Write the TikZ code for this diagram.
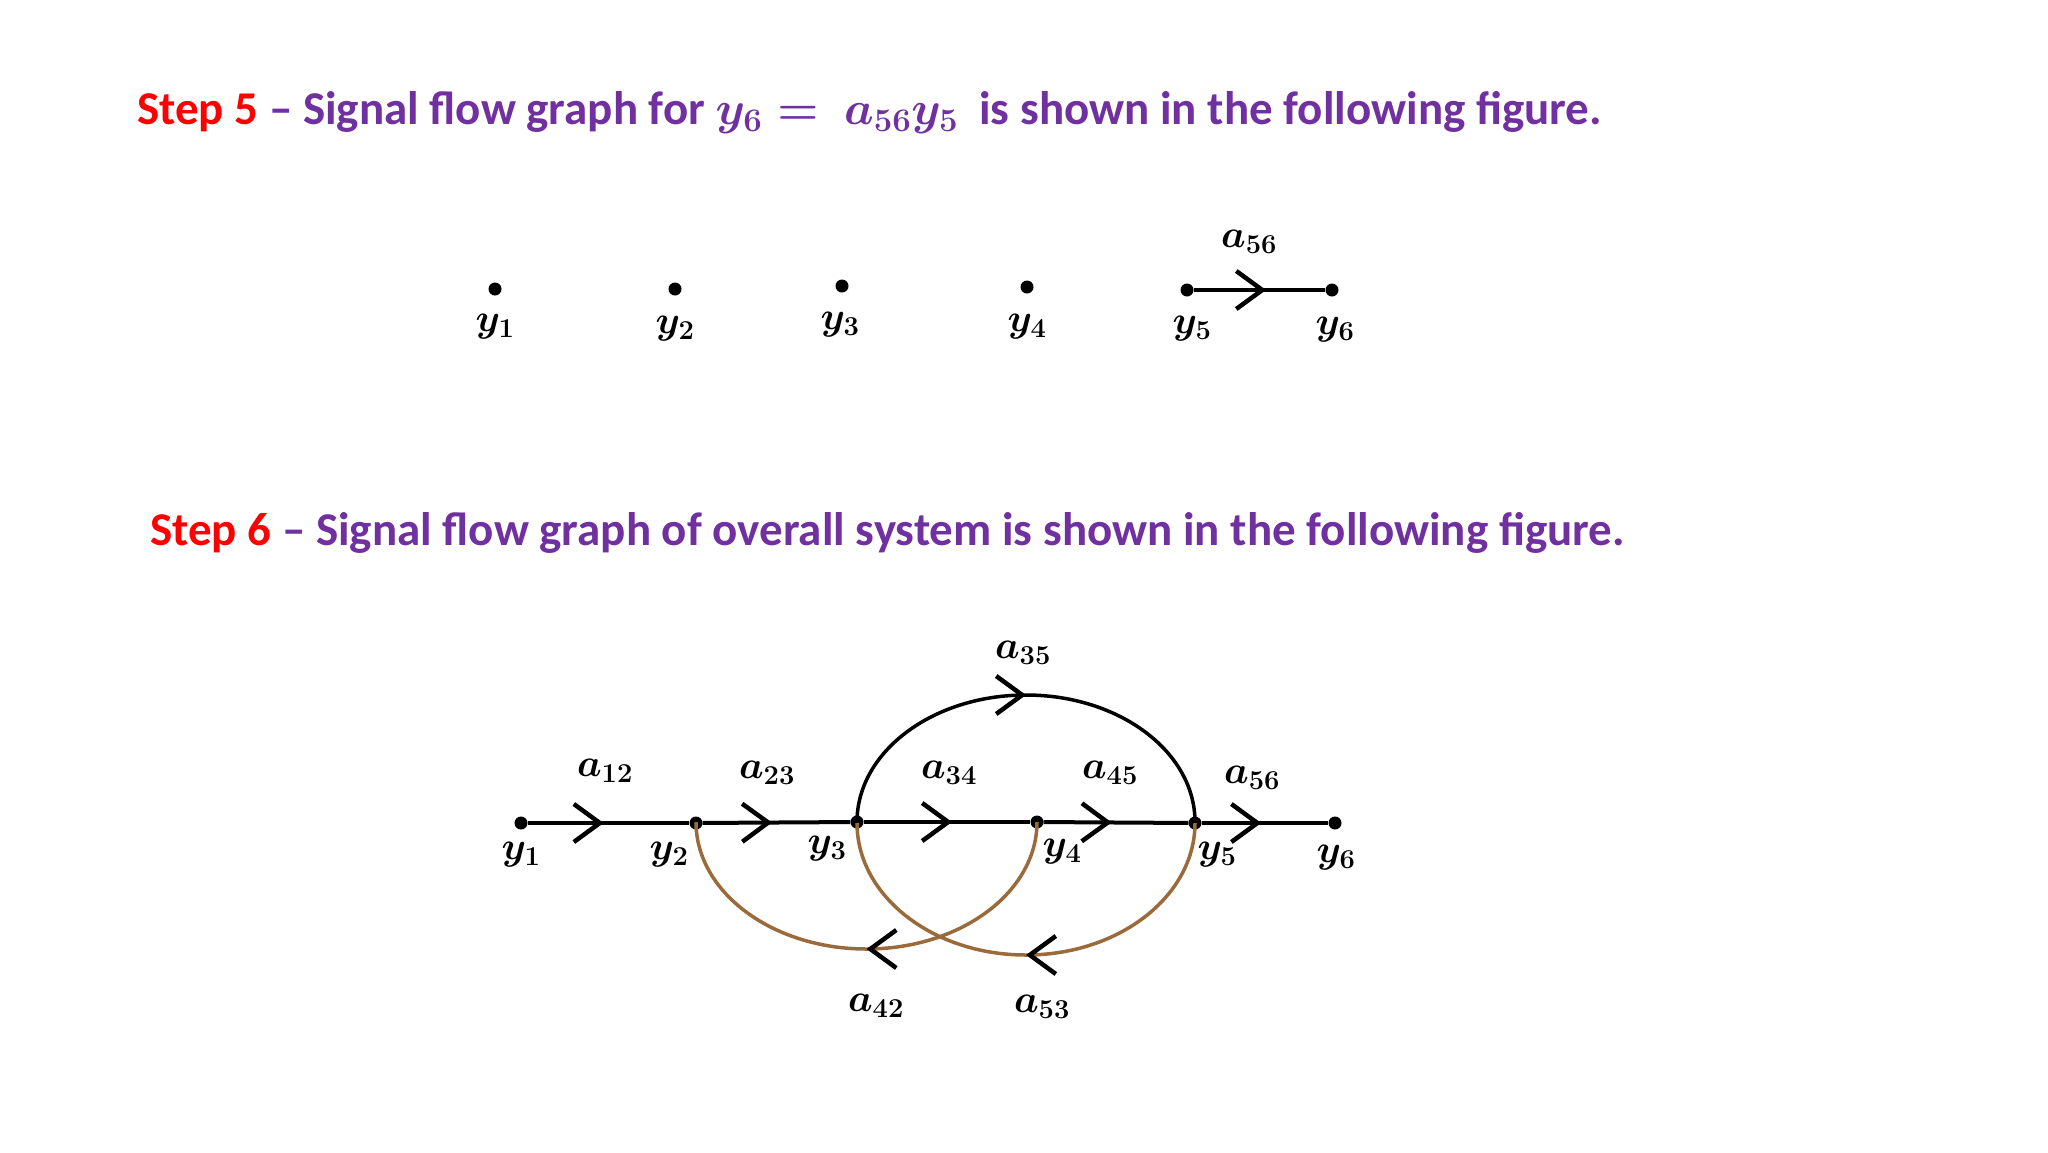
\RequirePackage{fix-cm}
\documentclass[tikz,border=0pt]{standalone}
\usepackage{fontspec}
\setmainfont{Carlito}
\usetikzlibrary{arrows.meta,decorations.markings}
\definecolor{stepred}{HTML}{FF0000}
\definecolor{steppurple}{HTML}{7030A0}
\definecolor{loopbrown}{HTML}{9A6A3A}
\begin{document}
\begin{tikzpicture}[x=1pt,y=-1pt,
  dot/.style={circle,fill=black,inner sep=0pt,minimum size=13pt},
  lbl/.style={inner sep=0pt,font=\fontsize{39}{42}\selectfont\boldmath},
  titletext/.style={anchor=base west,inner sep=0pt,font=\fontsize{47}{52}\selectfont\bfseries\boldmath,text=steppurple},
  chev/.style={decoration={markings,mark=at position #1 with {\arrow[black]{Straight Barb[length=26pt,width=38pt,line width=4.5pt]}}},postaction={decorate}},
  fwd/.style={line width=4pt,black},
  arcline/.style={line width=3.5pt,black},
  loopline/.style={line width=3.5pt,loopbrown},
]
\useasboundingbox[fill=white] (0,0) rectangle (2048,1152);

% titles
\node[titletext] (title1) at (137,124) {{\color{stepred}Step 5} – Signal flow graph for $y_6 =\ a_{56}y_5$\ \ is shown in the following figure.};
\node[titletext] (title2) at (150,545) {{\color{stepred}Step 6} – Signal flow graph of overall system is shown in the following figure.};

% ---- top graph ----
\node[dot] (t1) at (495,289) {};
\node[dot] (t2) at (675,289) {};
\node[dot] (t3) at (842,286) {};
\node[dot] (t4) at (1027,287) {};
\node[dot] (t5) at (1187,290) {};
\node[dot] (t6) at (1332,290) {};
\node[lbl] (tl1) at (495,327) {$y_1$};
\node[lbl] (tl2) at (675,329) {$y_2$};
\node[lbl] (tl3) at (840,325) {$y_3$};
\node[lbl] (tl4) at (1027,327) {$y_4$};
\node[lbl] (tl5) at (1192,329) {$y_5$};
\node[lbl] (tl6) at (1335,330) {$y_6$};
\node[lbl] (ta56) at (1249,242) {$a_{56}$};
\draw[fwd,chev=0.55] (t5) -- (t6);

% ---- bottom graph ----
\node[dot] (b1) at (521,823) {};
\node[dot] (b2) at (696,823) {};
\node[dot] (b3) at (857,822) {};
\node[dot] (b4) at (1037,822) {};
\node[dot] (b5) at (1195,823) {};
\node[dot] (b6) at (1335,823) {};

% feedback loops
\draw[loopline,chev=0.5] (b4.center) arc[start angle=0,end angle=180,x radius=170.5,y radius=127];
\draw[loopline,chev=0.5] (b5.center) arc[start angle=0,end angle=180,x radius=169,y radius=132];
% a35 arc
\draw[arcline,chev=0.5] (b3.center) arc[start angle=180,end angle=360,x radius=169,y radius=127];

% forward path
\draw[fwd,chev=0.47] (b1) -- (b2);
\draw[fwd,chev=0.47] (b2) -- (b3);
\draw[fwd,chev=0.53] (b3) -- (b4);
\draw[fwd,chev=0.47] (b4) -- (b5);
\draw[fwd,chev=0.47] (b5) -- (b6);

\node[lbl] (l1) at (521,855) {$y_1$};
\node[lbl] (l2) at (669,855) {$y_2$};
\node[lbl] (l3) at (827,849) {$y_3$};
\node[lbl] (l4) at (1062,852) {$y_4$};
\node[lbl] (l5) at (1217,855) {$y_5$};
\node[lbl] (l6) at (1336,858) {$y_6$};
\node[lbl] (a12) at (605,771) {$a_{12}$};
\node[lbl] (a23) at (767,773) {$a_{23}$};
\node[lbl] (a34) at (949,773) {$a_{34}$};
\node[lbl] (a45) at (1110,773) {$a_{45}$};
\node[lbl] (a56) at (1252,778) {$a_{56}$};
\node[lbl] (a35) at (1023,653) {$a_{35}$};
\node[lbl] (a42) at (876,1006) {$a_{42}$};
\node[lbl] (a53) at (1042,1007) {$a_{53}$};
\end{tikzpicture}
\end{document}
